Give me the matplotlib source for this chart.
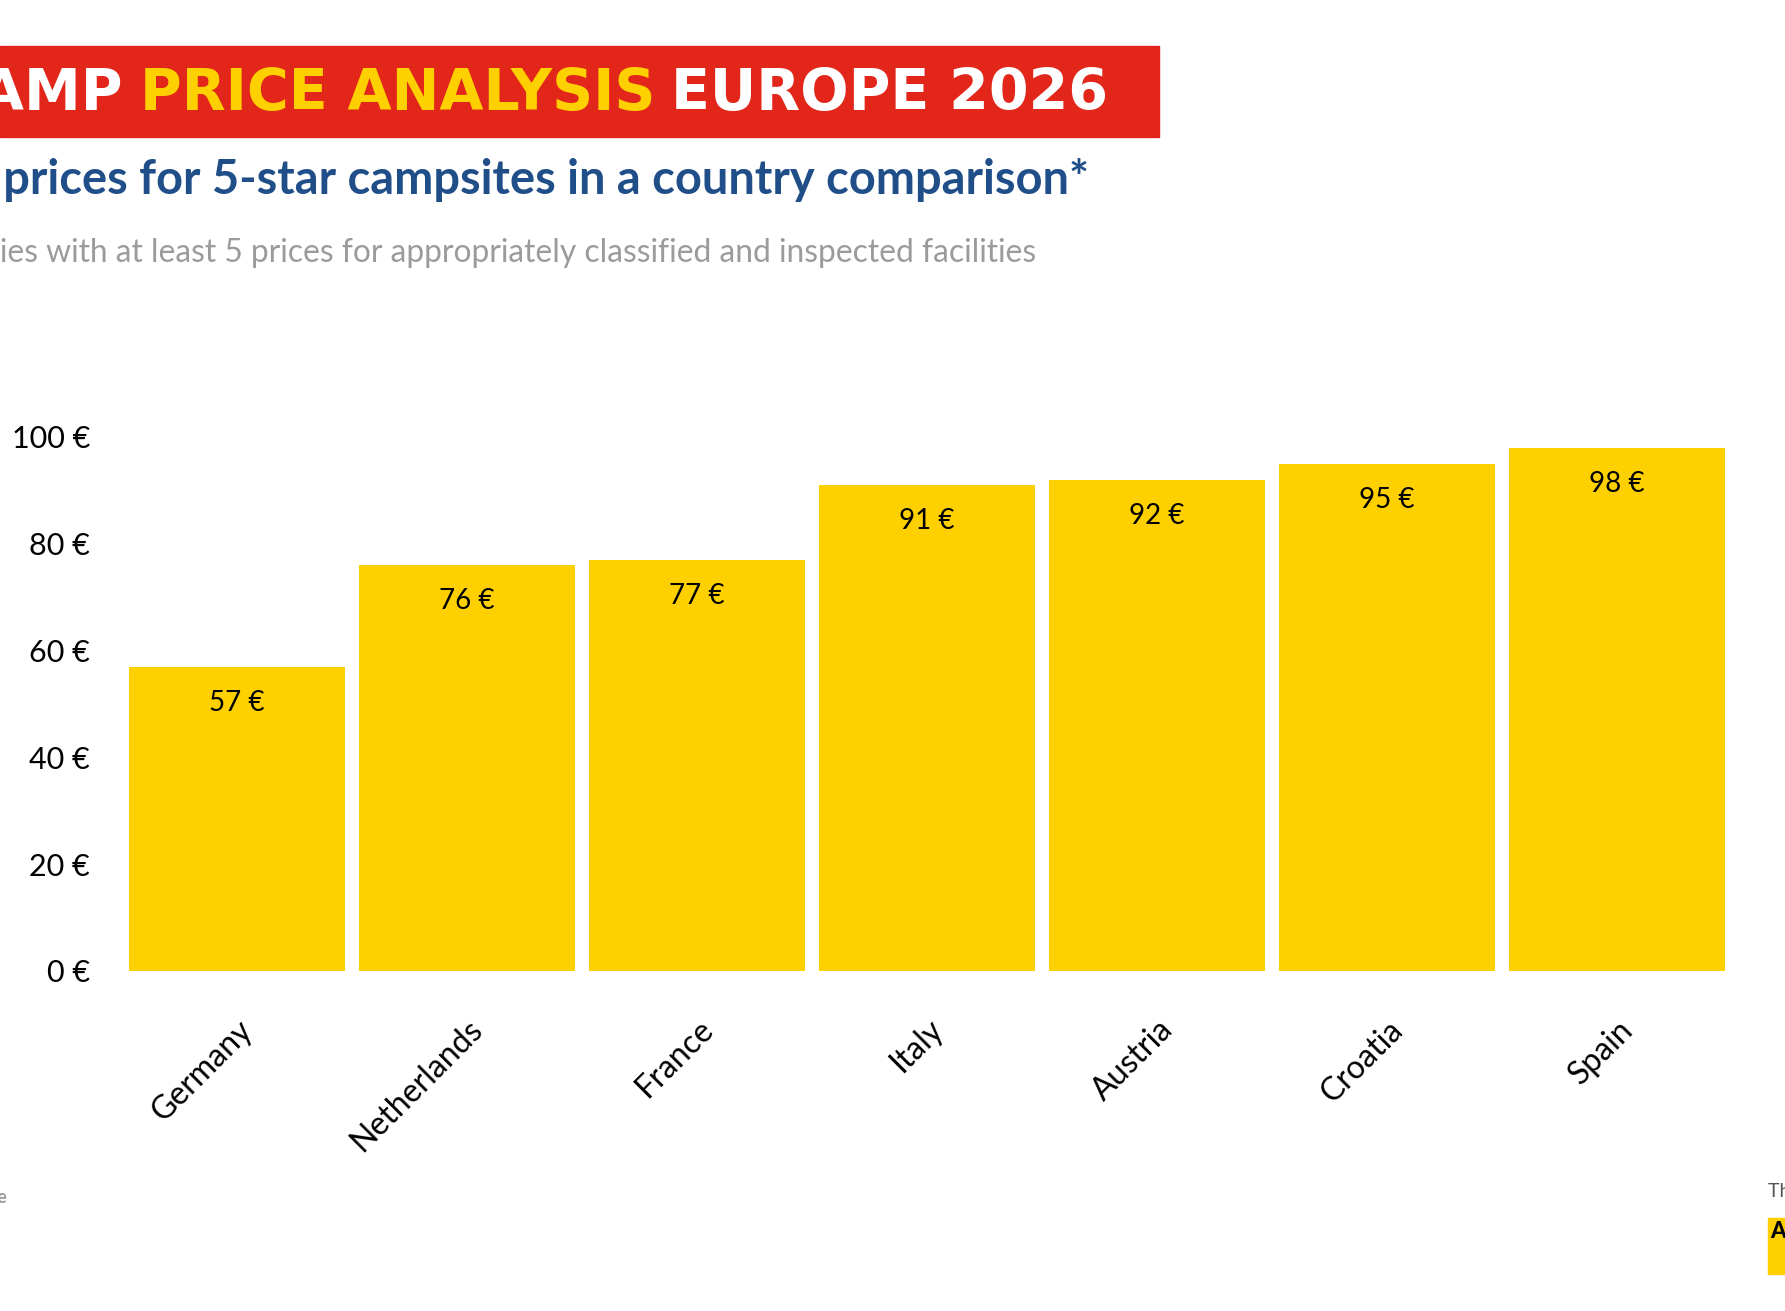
import matplotlib.pyplot as plt
from matplotlib.patches import Rectangle

countries = ["Germany", "Netherlands", "France", "Italy", "Austria", "Croatia", "Spain"]
prices = [57, 76, 77, 91, 92, 95, 98]
y_ticks = [0, 20, 40, 60, 80, 100]

W, H = 1785, 1311
RED = "#E3261A"
YELLOW = "#FFD000"
BLUE = "#1F4E89"
GREY = "#9B9B9B"

plt.rcParams['font.family'] = ['Lato', 'DejaVu Sans']

fig = plt.figure(figsize=(W / 100, H / 100), dpi=100)


def fx(x):
    return x / W


def fy(y):
    return 1 - y / H


# bar chart
ax = fig.add_axes([fx(122), fy(971), (1732 - 122) / W, (971 - 437) / H])
xs = range(len(countries))
ax.bar(xs, prices, width=0.94, color=YELLOW)
ax.set_xlim(-0.5, len(countries) - 0.5)
ax.set_ylim(0, 100)
ax.set_yticks(y_ticks)
ax.set_yticklabels([f"{v} €" for v in y_ticks], fontsize=22)
ax.tick_params(axis='y', length=0, pad=23)
ax.set_xticks([])
for s in ax.spines.values():
    s.set_visible(False)

for i, v in enumerate(prices):
    ax.annotate(f"{v} €", (i, v), xytext=(0, -26), textcoords='offset points',
                ha='center', va='center', fontsize=20)
    ax.annotate(countries[i], (i, 0), xytext=(8, -39), textcoords='offset points',
                rotation=45, rotation_mode='anchor', ha='right', va='center', fontsize=23)

# red title banner
fig.patches.append(Rectangle((0, fy(137)), fx(1159), (137 - 46) / H,
                             transform=fig.transFigure, color=RED, zorder=0))

title_font = dict(fontsize=41, fontweight='bold', family='DejaVu Sans', va='baseline', ha='right')
fig.canvas.draw()
r = fig.canvas.get_renderer()
t3 = fig.text(fx(1108), fy(110), "EUROPE 2026", color='white', **title_font)
x_left = t3.get_window_extent(r).x0
t2 = fig.text((x_left - 16) / W, fy(110), "PRICE ANALYSIS", color=YELLOW, **title_font)
x_left = t2.get_window_extent(r).x0
fig.text((x_left - 16) / W, fy(110), "PiNCAMP", color='white', **title_font)

fig.text(fx(1089), fy(180), "Average prices for 5-star campsites in a country comparison*",
         color=BLUE, fontsize=33.8, fontweight='bold', ha='right', va='center')
fig.text(fx(1036), fy(252),
         "*Countries with at least 5 prices for appropriately classified and inspected facilities",
         color=GREY, fontsize=22.9, ha='right', va='center')

# footer bits
fig.text(fx(7), fy(1198), "Source: www.pincamp.de", ha='right', va='center',
         fontsize=13, color=GREY, fontweight='bold')
fig.text(fx(1768), fy(1192), "The camping portal of", ha='left', va='center',
         fontsize=14, color='#555555')
fig.patches.append(Rectangle((fx(1768), fy(1274)), fx(W - 1768) + 0.01, (1274 - 1218) / H,
                             transform=fig.transFigure, color=YELLOW, zorder=0))
fig.text(fx(1770), fy(1232), "ADAC", ha='left', va='center', fontsize=16,
         fontweight='black', color='black')

fig.savefig("out.png", dpi=100)
